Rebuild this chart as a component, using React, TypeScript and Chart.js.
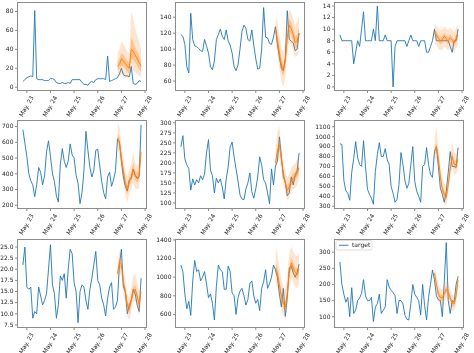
import React, { useEffect, useRef } from "react";
import { Chart, registerables } from "chart.js";
Chart.register(...registerables);

// time index: hours from May 23 00:00
const HIST_START = -4;
const HIST_STEP = 2;
const FC_START = 92;
const FC_STEP = 2;

const xTicks = [0, 24, 48, 72, 96, 120];
const xTickLabels = ["May. 23", "May. 24", "May. 25", "May. 26", "May. 27", "May. 28"];

// ---------- panel 1 ----------
const target1 = [6, 8, 10, 11, 12, 11, 81, 9, 8, 8, 8, 7, 7, 7, 9, 9, 8, 5, 4, 4, 5, 4, 4, 5, 4, 8, 8, 8, 8, 8, 5, 3, 3, 2, 5, 6, 5, 8, 9, 9, 9, 9, 8, 33, 6, 7, 8, 9, 10, 14, 20, 13, 12, 12, 11, 22, 4, 3, 4, 7, 6];
const med1 = [22, 24, 30, 28, 25, 22, 20, 40, 38, 34, 30, 26, 22];
const p25_1 = [18, 19, 23, 22, 19, 16, 15, 30, 29, 26, 23, 19, 16];
const p75_1 = [27, 30, 36, 34, 31, 28, 26, 52, 48, 42, 38, 33, 28];
const p05_1 = [12, 12, 14, 14, 12, 10, 9, 18, 18, 16, 14, 12, 10];
const p95_1 = [36, 40, 48, 46, 42, 38, 36, 80, 72, 62, 55, 48, 40];
const yTicks1 = [0, 20, 40, 60, 80];
const yLim1 = [-4, 90];

// ---------- panel 2 ----------
const target2 = [118, 116, 106, 78, 70, 145, 112, 104, 103, 101, 98, 97, 112, 104, 95, 78, 74, 85, 112, 118, 125, 116, 112, 124, 110, 105, 95, 78, 73, 80, 100, 122, 130, 126, 112, 110, 124, 105, 88, 75, 76, 100, 152, 115, 114, 107, 106, 115, 128, 106, 90, 76, 73, 88, 148, 112, 110, 108, 98, 100, 120];
const med2 = [125, 112, 95, 80, 74, 85, 115, 130, 126, 118, 108, 110, 120];
const p25_2 = [117, 104, 87, 72, 66, 77, 106, 122, 118, 110, 101, 103, 112];
const p75_2 = [133, 120, 103, 88, 82, 94, 124, 138, 134, 126, 116, 118, 128];
const p05_2 = [108, 94, 76, 60, 52, 64, 92, 110, 106, 98, 90, 92, 100];
const p95_2 = [142, 135, 118, 102, 96, 110, 140, 150, 146, 138, 130, 134, 142];
const yTicks2 = [60, 80, 100, 120, 140];
const yLim2 = [47.5, 159];

// ---------- panel 3 ----------
const target3 = [9, 8, 8, 8, 8, 8, 8, 4, 6, 8, 7, 10, 13, 8, 8, 8, 8, 10, 8, 14, 8, 8, 8, 9, 8, 8, 8, 0, 7, 8, 8, 8, 8, 8, 7, 8, 9, 8, 8, 8, 7, 8, 8, 8, 6, 6, 7, 8, 10, 8, 8, 8, 8, 8, 8, 8, 7, 6, 8, 8, 10];
const med3 = [9.2, 9.0, 8.4, 8.0, 8.2, 8.8, 8.3, 8.0, 8.5, 8.1, 7.6, 8.4, 9.0];
const p25_3 = [8.6, 8.4, 7.8, 7.4, 7.6, 8.2, 7.7, 7.4, 7.9, 7.5, 7.0, 7.8, 8.4];
const p75_3 = [9.8, 9.6, 9.0, 8.6, 8.8, 9.4, 8.9, 8.6, 9.1, 8.7, 8.2, 9.0, 9.6];
const p05_3 = [7.4, 7.2, 6.6, 6.3, 6.5, 7.0, 6.6, 6.3, 6.8, 6.4, 6.0, 6.7, 7.2];
const p95_3 = [10.8, 10.6, 10.2, 9.8, 10.0, 10.6, 10.1, 9.8, 10.3, 9.9, 9.5, 10.3, 10.8];
const yTicks3 = [0, 2, 4, 6, 8, 10, 12, 14];
const yLim3 = [-0.7, 14.7];

// ---------- panel 4 ----------
const target4 = [680, 595, 510, 400, 355, 330, 255, 330, 440, 410, 330, 385, 540, 610, 510, 400, 350, 260, 220, 460, 560, 480, 440, 480, 590, 520, 500, 390, 340, 210, 280, 420, 670, 550, 440, 380, 420, 550, 555, 450, 350, 280, 240, 380, 410, 320, 360, 420, 620, 600, 480, 380, 320, 290, 360, 370, 430, 390, 370, 380, 710];
const med4 = [630, 600, 500, 420, 340, 300, 350, 380, 430, 390, 375, 390, 540];
const p25_4 = [600, 570, 470, 390, 310, 270, 320, 350, 395, 360, 345, 360, 500];
const p75_4 = [660, 635, 530, 450, 370, 330, 380, 410, 470, 420, 405, 420, 575];
const p05_4 = [560, 520, 420, 340, 260, 215, 270, 300, 340, 310, 300, 315, 450];
const p95_4 = [720, 700, 590, 510, 420, 385, 430, 460, 540, 470, 455, 470, 620];
const yTicks4 = [200, 300, 400, 500, 600, 700];
const yLim4 = [176, 742];

// ---------- panel 5 ----------
const target5 = [240, 268, 210, 195, 186, 132, 160, 145, 158, 150, 168, 158, 172, 225, 258, 182, 168, 125, 162, 150, 160, 140, 110, 160, 190, 240, 252, 215, 185, 155, 120, 110, 108, 135, 150, 175, 128, 112, 135, 165, 215, 195, 158, 150, 125, 98, 185, 145, 192, 205, 265, 215, 165, 152, 118, 125, 165, 145, 170, 180, 225];
const med5 = [200, 230, 245, 210, 175, 150, 132, 140, 155, 162, 165, 175, 188];
const p25_5 = [192, 220, 235, 200, 165, 140, 122, 130, 145, 150, 155, 163, 176];
const p75_5 = [210, 242, 258, 222, 185, 160, 143, 152, 167, 174, 177, 188, 200];
const p05_5 = [180, 200, 215, 180, 148, 125, 105, 113, 128, 133, 137, 145, 158];
const p95_5 = [230, 275, 292, 245, 205, 180, 162, 172, 186, 195, 198, 210, 222];
const yTicks5 = [100, 125, 150, 175, 200, 225, 250, 275, 300];
const yLim5 = [85, 307];

// ---------- panel 6 ----------
const target6 = [930, 920, 560, 455, 430, 360, 640, 780, 950, 790, 720, 700, 960, 700, 470, 420, 380, 320, 650, 820, 940, 800, 800, 880, 770, 720, 500, 430, 340, 370, 520, 840, 720, 560, 480, 530, 720, 900, 550, 450, 400, 340, 700, 720, 890, 720, 620, 590, 850, 900, 700, 480, 420, 340, 450, 640, 850, 700, 700, 690, 890];
const med6 = [860, 890, 780, 600, 470, 420, 390, 520, 680, 800, 720, 720, 770];
const p25_6 = [820, 850, 740, 560, 430, 385, 355, 480, 640, 760, 680, 680, 730];
const p75_6 = [900, 940, 820, 640, 510, 460, 430, 560, 720, 850, 760, 760, 810];
const p05_6 = [760, 780, 670, 500, 380, 330, 300, 420, 580, 690, 620, 630, 670];
const p95_6 = [1000, 1100, 900, 720, 580, 530, 500, 630, 800, 950, 840, 830, 880];
const yTicks6 = [300, 400, 500, 600, 700, 800, 900, 1000, 1100];
const yLim6 = [272, 1168];

// ---------- panel 7 ----------
const target7 = [21, 25, 16, 15.5, 16, 9, 10.5, 10, 16, 14, 12, 13, 14.5, 20, 25.5, 16.5, 14.5, 9, 12, 18.5, 17.5, 19, 13.5, 20, 24.5, 23.5, 17, 15, 8, 15, 16.5, 16, 13, 11, 15.5, 18, 21, 24, 17.5, 16.5, 13.5, 12, 9.5, 13.5, 16, 17, 11, 11.5, 13, 21, 24.5, 16, 15, 10, 12, 13, 15.5, 14.5, 12, 10.5, 18];
const med7 = [19, 21.5, 21, 17, 15, 12, 11, 13, 15, 15.5, 14, 12, 15];
const p25_7 = [18, 20.5, 20, 16, 14, 11, 10, 12, 14, 14.5, 13, 11, 14];
const p75_7 = [20, 22.5, 22, 18, 16, 13, 12, 14, 16, 16.5, 15, 13, 16];
const p05_7 = [16.5, 19, 18.5, 14.5, 12.5, 9.5, 8.5, 10.5, 12.5, 13, 11.5, 9.5, 12.5];
const p95_7 = [21.5, 24, 23.5, 19.5, 17.5, 14.5, 13.5, 16, 18.5, 19, 17.5, 15, 18];
const yTicks7 = [7.5, 10, 12.5, 15, 17.5, 20, 22.5, 25];
const yLim7 = [6.8, 26.8];

// ---------- panel 8 ----------
const target8 = [1130, 1060, 820, 660, 740, 590, 960, 1180, 1060, 1080, 960, 1000, 1060, 930, 780, 820, 720, 540, 900, 1130, 1080, 1060, 870, 870, 1120, 1060, 830, 800, 600, 780, 850, 880, 800, 700, 760, 930, 960, 800, 720, 760, 640, 880, 950, 1080, 880, 930, 1000, 1130, 1080, 1000, 820, 680, 880, 580, 780, 1100, 1120, 1050, 1000, 1050, 1140];
const med8 = [1100, 1040, 920, 790, 720, 680, 820, 1050, 1150, 1100, 1050, 1030, 1090];
const p25_8 = [1040, 980, 860, 740, 670, 630, 760, 990, 1090, 1040, 990, 970, 1030];
const p75_8 = [1160, 1100, 980, 850, 780, 740, 880, 1110, 1210, 1160, 1110, 1090, 1150];
const p05_8 = [940, 880, 770, 650, 590, 540, 670, 890, 990, 940, 900, 880, 930];
const p95_8 = [1340, 1250, 1120, 980, 900, 860, 1020, 1250, 1330, 1280, 1240, 1220, 1260];
const yTicks8 = [600, 800, 1000, 1200, 1400];
const yLim8 = [454, 1410];

// ---------- panel 9 ----------
const target9 = [270, 200, 170, 145, 160, 100, 190, 110, 120, 150, 158, 172, 215, 165, 150, 150, 160, 85, 130, 140, 170, 110, 120, 130, 215, 192, 182, 175, 165, 110, 150, 150, 140, 105, 92, 90, 140, 200, 170, 160, 150, 105, 200, 135, 90, 160, 200, 245, 215, 165, 152, 150, 100, 210, 330, 150, 110, 150, 145, 200, 225];
const med9 = [235, 200, 170, 160, 158, 172, 185, 175, 158, 142, 140, 165, 215];
const p25_9 = [225, 190, 160, 150, 148, 162, 175, 165, 148, 132, 130, 155, 203];
const p75_9 = [245, 210, 180, 170, 168, 182, 195, 185, 168, 152, 150, 175, 227];
const p05_9 = [210, 175, 145, 135, 133, 145, 160, 150, 133, 118, 116, 140, 190];
const p95_9 = [265, 228, 198, 188, 185, 200, 212, 203, 185, 168, 166, 192, 240];
const yTicks9 = [100, 150, 200, 250, 300];
const yLim9 = [65, 341];

const legendLabel = "target";

type PanelDef = {
  target: number[]; med: number[]; p25: number[]; p75: number[]; p05: number[]; p95: number[];
  yTicks: number[]; yLim: number[]; digits: number; legend?: boolean;
};

const panels: PanelDef[] = [
  { target: target1, med: med1, p25: p25_1, p75: p75_1, p05: p05_1, p95: p95_1, yTicks: yTicks1, yLim: yLim1, digits: 0 },
  { target: target2, med: med2, p25: p25_2, p75: p75_2, p05: p05_2, p95: p95_2, yTicks: yTicks2, yLim: yLim2, digits: 0 },
  { target: target3, med: med3, p25: p25_3, p75: p75_3, p05: p05_3, p95: p95_3, yTicks: yTicks3, yLim: yLim3, digits: 0 },
  { target: target4, med: med4, p25: p25_4, p75: p75_4, p05: p05_4, p95: p95_4, yTicks: yTicks4, yLim: yLim4, digits: 0 },
  { target: target5, med: med5, p25: p25_5, p75: p75_5, p05: p05_5, p95: p95_5, yTicks: yTicks5, yLim: yLim5, digits: 0 },
  { target: target6, med: med6, p25: p25_6, p75: p75_6, p05: p05_6, p95: p95_6, yTicks: yTicks6, yLim: yLim6, digits: 0 },
  { target: target7, med: med7, p25: p25_7, p75: p75_7, p05: p05_7, p95: p95_7, yTicks: yTicks7, yLim: yLim7, digits: 1 },
  { target: target8, med: med8, p25: p25_8, p75: p75_8, p05: p05_8, p95: p95_8, yTicks: yTicks8, yLim: yLim8, digits: 0 },
  { target: target9, med: med9, p25: p25_9, p75: p75_9, p05: p05_9, p95: p95_9, yTicks: yTicks9, yLim: yLim9, digits: 0, legend: true },
];

// layout
const COL_L = [17, 175, 334];
const ROW_T = [2, 120, 239];
const PW = 130;
const PH = 89;
const PADL = 34, PADT = 6, PADR = 14, PADB = 34;
const X_MIN = -10, X_MAX = 122;
const FS = 6;
const FONT = `${FS}px "DejaVu Sans"`;
const BLUE = "#1f77b4";
const ORANGE = "#ff7f0e";

const decorPlugin = {
  id: "decor",
  afterDatasetsDraw(chart: any) {
    const o = chart.options.plugins.decor || {};
    const { ctx, chartArea: a } = chart;
    const xs = chart.scales.x, ys = chart.scales.y;
    ctx.save();
    // spines
    ctx.strokeStyle = "#8c8c8c";
    ctx.lineWidth = 1;
    ctx.strokeRect(a.left + 0.5, a.top + 0.5, a.right - a.left - 1, a.bottom - a.top - 1);
    ctx.fillStyle = "#1e1e1e";
    ctx.font = FONT;
    // y ticks
    ctx.textAlign = "right";
    ctx.textBaseline = "middle";
    ys.ticks.forEach((t: any) => {
      const y = ys.getPixelForValue(t.value);
      ctx.beginPath();
      ctx.moveTo(a.left - 2, y);
      ctx.lineTo(a.left, y);
      ctx.stroke();
      ctx.fillText(t.value.toFixed(o.digits || 0), a.left - 3.5, y + 0.3);
    });
    // x ticks
    const ang = (60 * Math.PI) / 180;
    xs.ticks.forEach((t: any) => {
      const x = xs.getPixelForValue(t.value);
      ctx.beginPath();
      ctx.moveTo(x, a.bottom);
      ctx.lineTo(x, a.bottom + 2);
      ctx.stroke();
      const idx = xTicks.indexOf(t.value);
      const label = xTickLabels[idx];
      const L = ctx.measureText(label).width;
      const h = FS * 1.1;
      const bh = L * Math.sin(ang) + h * Math.cos(ang);
      ctx.save();
      ctx.translate(x, a.bottom + 4 + bh / 2);
      ctx.rotate(-ang);
      ctx.textAlign = "center";
      ctx.textBaseline = "middle";
      ctx.fillText(label, 0, 0);
      ctx.restore();
    });
    if (o.legend) {
      const bx = a.left + 2, by = a.top + 1.5, bw = 36, bh = 9.5;
      ctx.beginPath();
      const r = 1.5;
      ctx.moveTo(bx + r, by);
      ctx.lineTo(bx + bw - r, by);
      ctx.arcTo(bx + bw, by, bx + bw, by + r, r);
      ctx.lineTo(bx + bw, by + bh - r);
      ctx.arcTo(bx + bw, by + bh, bx + bw - r, by + bh, r);
      ctx.lineTo(bx + r, by + bh);
      ctx.arcTo(bx, by + bh, bx, by + bh - r, r);
      ctx.lineTo(bx, by + r);
      ctx.arcTo(bx, by, bx + r, by, r);
      ctx.closePath();
      ctx.fillStyle = "rgba(255,255,255,0.8)";
      ctx.fill();
      ctx.strokeStyle = "#d6d6d6";
      ctx.lineWidth = 0.8;
      ctx.stroke();
      ctx.strokeStyle = BLUE;
      ctx.lineWidth = 0.9;
      ctx.beginPath();
      ctx.moveTo(bx + 3, by + bh / 2);
      ctx.lineTo(bx + 12.5, by + bh / 2);
      ctx.stroke();
      ctx.fillStyle = "#1e1e1e";
      ctx.textAlign = "left";
      ctx.textBaseline = "middle";
      ctx.fillText(legendLabel, bx + 16, by + bh / 2 + 0.3);
    }
    ctx.restore();
  },
};

function Panel({ p, left, top }: { p: PanelDef; left: number; top: number }) {
  const ref = useRef<HTMLCanvasElement | null>(null);
  useEffect(() => {
    if (!ref.current) return;
    const hist = p.target.map((v, k) => ({ x: HIST_START + HIST_STEP * k, y: v }));
    const fc = (arr: number[]) => arr.map((v, k) => ({ x: FC_START + FC_STEP * k, y: v }));
    const chart = new Chart(ref.current, {
      type: "line",
      data: {
        datasets: [
          { data: fc(p.med), borderColor: ORANGE, borderWidth: 0.9, pointRadius: 0, fill: false, order: 0 },
          { data: fc(p.p25), borderWidth: 0, pointRadius: 0, fill: false, order: 1 },
          { data: fc(p.p75), borderWidth: 0, pointRadius: 0, fill: "-1", backgroundColor: "rgba(255,127,14,0.33)", order: 1 },
          { data: fc(p.p05), borderWidth: 0, pointRadius: 0, fill: false, order: 2 },
          { data: fc(p.p95), borderWidth: 0, pointRadius: 0, fill: "-1", backgroundColor: "rgba(255,127,14,0.2)", order: 2 },
          { data: hist, borderColor: BLUE, borderWidth: 0.9, pointRadius: 0, fill: false, order: 3 },
        ],
      } as any,
      options: {
        animation: false,
        responsive: false,
        maintainAspectRatio: false,
        devicePixelRatio: 1,
        layout: { padding: { left: 0, top: PADT, right: PADR, bottom: 0 } },
        plugins: {
          legend: { display: false },
          tooltip: { enabled: false },
          decor: { digits: p.digits, legend: !!p.legend },
        } as any,
        elements: { line: { tension: 0 }, point: { radius: 0 } },
        scales: {
          x: {
            type: "linear",
            min: X_MIN,
            max: X_MAX,
            grid: { display: false },
            border: { display: false },
            ticks: { display: false },
            afterBuildTicks: (s: any) => {
              s.ticks = xTicks.map((v) => ({ value: v }));
            },
            afterFit: (s: any) => {
              s.height = PADB;
              s.paddingLeft = 0; s.paddingRight = 0; s.paddingTop = 0; s.paddingBottom = 0;
            },
          },
          y: {
            type: "linear",
            min: p.yLim[0],
            max: p.yLim[1],
            grid: { display: false },
            border: { display: false },
            ticks: { display: false },
            afterBuildTicks: (s: any) => {
              s.ticks = p.yTicks.map((v) => ({ value: v }));
            },
            afterFit: (s: any) => {
              s.width = PADL;
              s.paddingLeft = 0; s.paddingRight = 0; s.paddingTop = 0; s.paddingBottom = 0;
            },
          },
        } as any,
      },
      plugins: [decorPlugin as any],
    });
    return () => chart.destroy();
  }, [p]);
  const w = PW + PADL + PADR;
  const h = PH + PADT + PADB;
  return (
    <canvas
      ref={ref}
      width={w}
      height={h}
      style={{ position: "absolute", left: left - PADL, top: top - PADT, width: w, height: h }}
    />
  );
}

export default function App() {
  return (
    <div style={{ position: "absolute", left: 0, top: 0, width: 474, height: 353, background: "#fff", overflow: "hidden" }}>
      {panels.map((p, i) => (
        <Panel key={i} p={p} left={COL_L[i % 3]} top={ROW_T[Math.floor(i / 3)]} />
      ))}
    </div>
  );
}
